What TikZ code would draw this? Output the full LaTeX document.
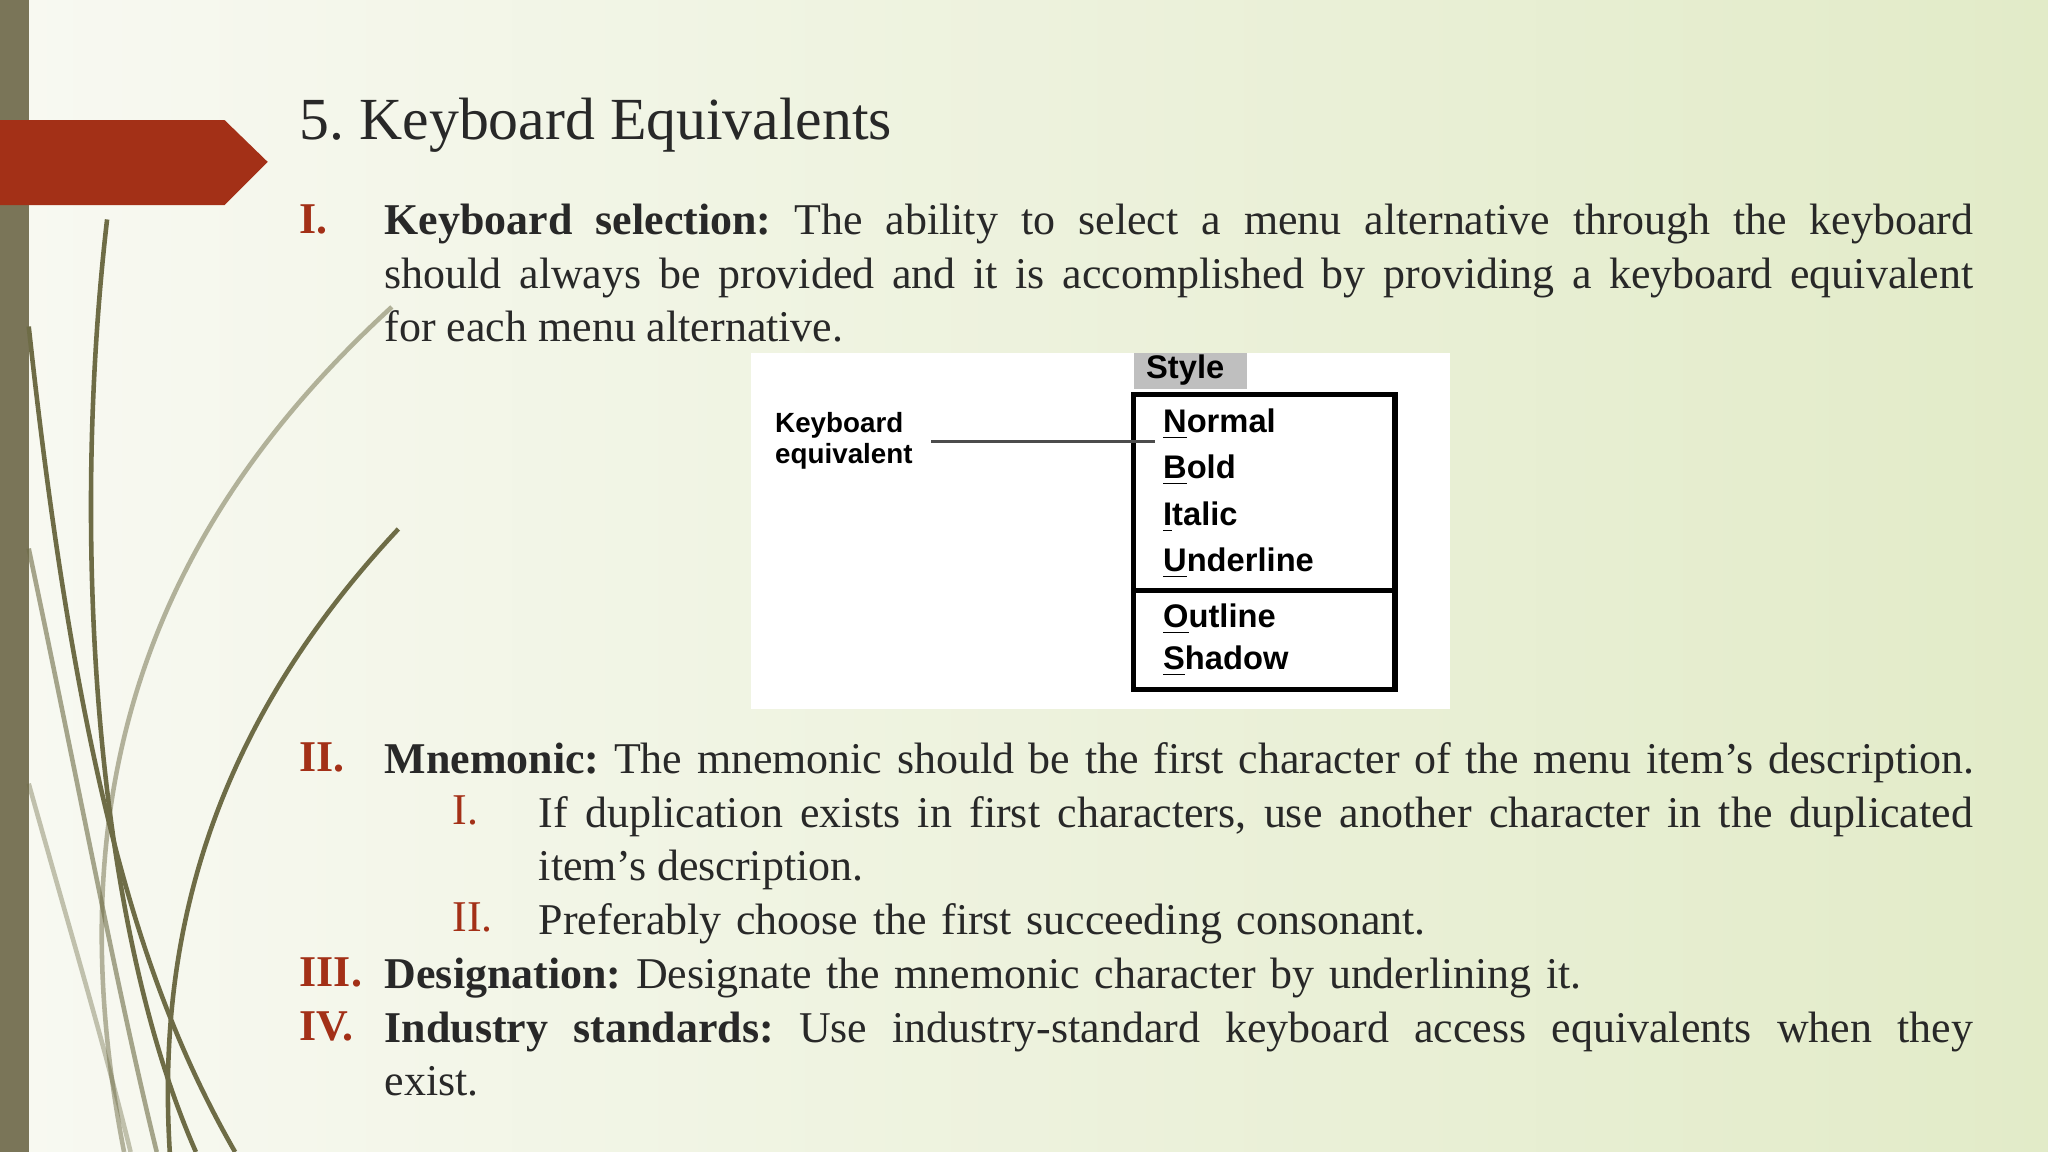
\documentclass[tikz,border=0pt]{standalone}
\usepackage{fontspec}
\setmainfont{Liberation Serif}
\newfontfamily\menufont{Liberation Sans}
\definecolor{bgA}{RGB}{248,249,242}
\definecolor{bgB}{RGB}{226,235,200}
\definecolor{barc}{RGB}{122,117,88}
\definecolor{redc}{RGB}{163,48,23}
\definecolor{curvec}{RGB}{110,108,70}
\definecolor{txt}{RGB}{40,40,40}
\hyphenpenalty=10000
\tolerance=9999
\frenchspacing
\begin{document}
\begin{tikzpicture}[x=0.01306cm,y=-0.01306cm,
  body/.style={inner sep=0,anchor=north west,text=txt,font=\fontsize{12.5pt}{15.2pt}\selectfont,align=justify},
  num/.style={inner sep=0,anchor=north west,text=redc,font=\fontsize{12.5pt}{15.2pt}\selectfont\bfseries},
  subnum/.style={inner sep=0,anchor=north west,text=redc,font=\fontsize{12.5pt}{15.2pt}\selectfont},
  menu/.style={inner sep=0,anchor=west,font=\menufont\fontsize{9.3pt}{10pt}\selectfont\bfseries}]
\useasboundingbox (0,0) rectangle (1568,882);
\shade[left color=bgA,right color=bgB] (0,0) rectangle (1568,882);
\fill[barc] (0,0) rectangle (22,882);
% curves
\begin{scope}[curvec,line width=1.3pt]
\draw (22,250) .. controls (60,600) and (110,760) .. (180,882);
\draw (82,168) .. controls (55,400) and (70,700) .. (150,882);
\draw (305,405) .. controls (160,560) and (120,720) .. (130,882);
\draw[opacity=0.5] (300,235) .. controls (120,400) and (40,600) .. (95,882);
\draw[opacity=0.6] (22,420) .. controls (60,600) and (90,760) .. (120,882);
\draw[opacity=0.4] (22,600) .. controls (50,700) and (80,800) .. (100,882);
\end{scope}
\fill[redc] (0,92) -- (172,92) -- (205,124) -- (172,157) -- (0,157) -- cycle;
\node[inner sep=0,anchor=west,text=txt,font=\fontsize{17pt}{20pt}\selectfont] (title) at (229,96) {5. Keyboard Equivalents};
% item I
\node[num] (n1) at (229,156) {I.};
\node[body,text width=452pt] (t1) at (294,156) {\textbf{Keyboard selection:} The ability to select a menu alternative through the keyboard\linebreak should always be provided and it is accomplished by providing a keyboard equivalent\linebreak for each menu alternative.};
% figure
\fill[white] (575,270) rectangle (1110,543);
\fill[black!25] (868,270) rectangle (955,298);
\node[menu] (style) at (877,283) {Style};
\draw[line width=1.5pt] (868,302) rectangle (1068,528);
\draw[line width=1.5pt] (868,452) -- (1068,452);
\node[inner sep=0,anchor=north west,align=left,font=\menufont\fontsize{7.9pt}{8.8pt}\selectfont\bfseries] (kb) at (593,315) {Keyboard\\equivalent};
\node[menu] (m1) at (890,325) {\underline{N}ormal};
\node[menu] (m2) at (890,360) {\underline{B}old};
\node[menu] (m3) at (890,396) {\underline{I}talic};
\node[menu] (m4) at (890,431) {\underline{U}nderline};
\node[menu] (m5) at (890,474) {\underline{O}utline};
\node[menu] (m6) at (890,506) {\underline{S}hadow};
\coordinate (lk) at (713,338);
\coordinate (lm) at (884,338);
\draw[black!70,line width=0.8pt] (lk) -- (lm);
% item II
\node[num] (n2) at (229,568) {II.};
\node[body,text width=470pt,align=left] (t2) at (294,568) {\textbf{Mnemonic:} The mnemonic should be the first character of the menu item’s description.};
\node[subnum] (s1) at (346,609) {I.};
\node[body,text width=408pt] (u1) at (412,609) {If duplication exists in first characters, use another character in the duplicated\linebreak item’s description.};
\node[subnum] (s2) at (346,691) {II.};
\node[body,text width=408pt,align=left] (u2) at (412,691) {Preferably choose the first succeeding consonant.};
\node[num] (n3) at (229,733) {III.};
\node[body,text width=452pt,align=left] (t3) at (294,733) {\textbf{Designation:} Designate the mnemonic character by underlining it.};
\node[num] (n4) at (229,774) {IV.};
\node[body,text width=452pt] (t4) at (294,774) {\textbf{Industry standards:} Use industry-standard keyboard access equivalents when they\linebreak exist.};
\end{tikzpicture}
\end{document}
